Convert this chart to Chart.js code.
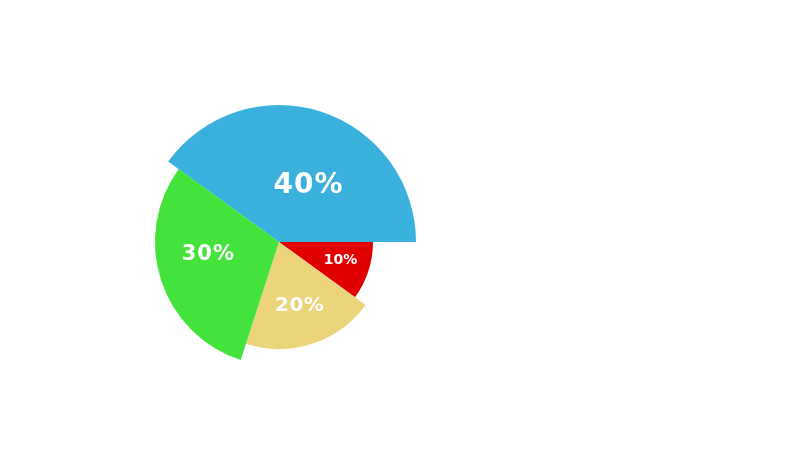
<!DOCTYPE html>
<html>
<head>
<meta charset="utf-8">
<script src="https://cdn.jsdelivr.net/npm/chart.js@4"></script>
<style>
  html, body { margin: 0; padding: 0; background: #fff; }
  #wrap { width: 800px; height: 450px; }
</style>
</head>
<body>
<div id="wrap"><canvas id="myChart"></canvas></div>
<script>
// slice labels, clockwise from the upper left
const labels = ['40%', '10%', '20%', '30%']
// share of the circle for each slice
const shares = [40, 10, 20, 30]
// how far each slice reaches out (radial scale runs 0..150)
const reach = [137, 94, 107, 124]
const colors = ['#3ab0dd', '#e10000', '#ecd47b', '#43e33b']

// label font size, spacing and a small angle nudge (degrees) per slice
const labelSize = [28, 14, 20, 21]
const labelSpacing = [1, 0, 0.5, 1]
const labelNudge = [9, -2, 0, 9]
const labelDist = [64, 64, 66, 72]

// writes the percentage inside each slice
const sliceLabels = {
  id: 'sliceLabels',
  afterDatasetsDraw(chart) {
    const c = chart.ctx
    const arcs = chart.getDatasetMeta(0).data
    c.save()
    c.fillStyle = '#fff'
    c.textAlign = 'center'
    c.textBaseline = 'middle'
    arcs.forEach((arc, i) => {
      const p = arc.getProps(['x', 'y', 'startAngle', 'endAngle'], true)
      const mid = (p.startAngle + p.endAngle) / 2 + labelNudge[i] * Math.PI / 180
      c.font = 'bold ' + labelSize[i] + 'px "DejaVu Sans"'
      c.letterSpacing = labelSpacing[i] + 'px'
      // shift by half the trailing spacing so the text stays centred
      const x = p.x + Math.cos(mid) * labelDist[i] + labelSpacing[i] / 2
      c.fillText(labels[i], x, p.y + Math.sin(mid) * labelDist[i] + 1)
    })
    c.restore()
  }
}

new Chart(document.getElementById('myChart'), {
  type: 'polarArea',
  data: {
    labels: labels,
    datasets: [{
      data: reach,
      backgroundColor: colors,
      borderWidth: 0,
      // each slice gets its own angle from the shares
      angle: (ctx) => shares[ctx.dataIndex] * 3.6
    }]
  },
  options: {
    responsive: true,
    maintainAspectRatio: false,
    animation: false,
    layout: { padding: { left: 129, top: 92, right: 371, bottom: 58 } },
    plugins: {
      legend: { display: false },
      tooltip: { enabled: false }
    },
    scales: {
      r: {
        display: false,
        min: 0,
        max: 150,
        startAngle: 306
      }
    }
  },
  plugins: [sliceLabels]
});
</script>
</body>
</html>
